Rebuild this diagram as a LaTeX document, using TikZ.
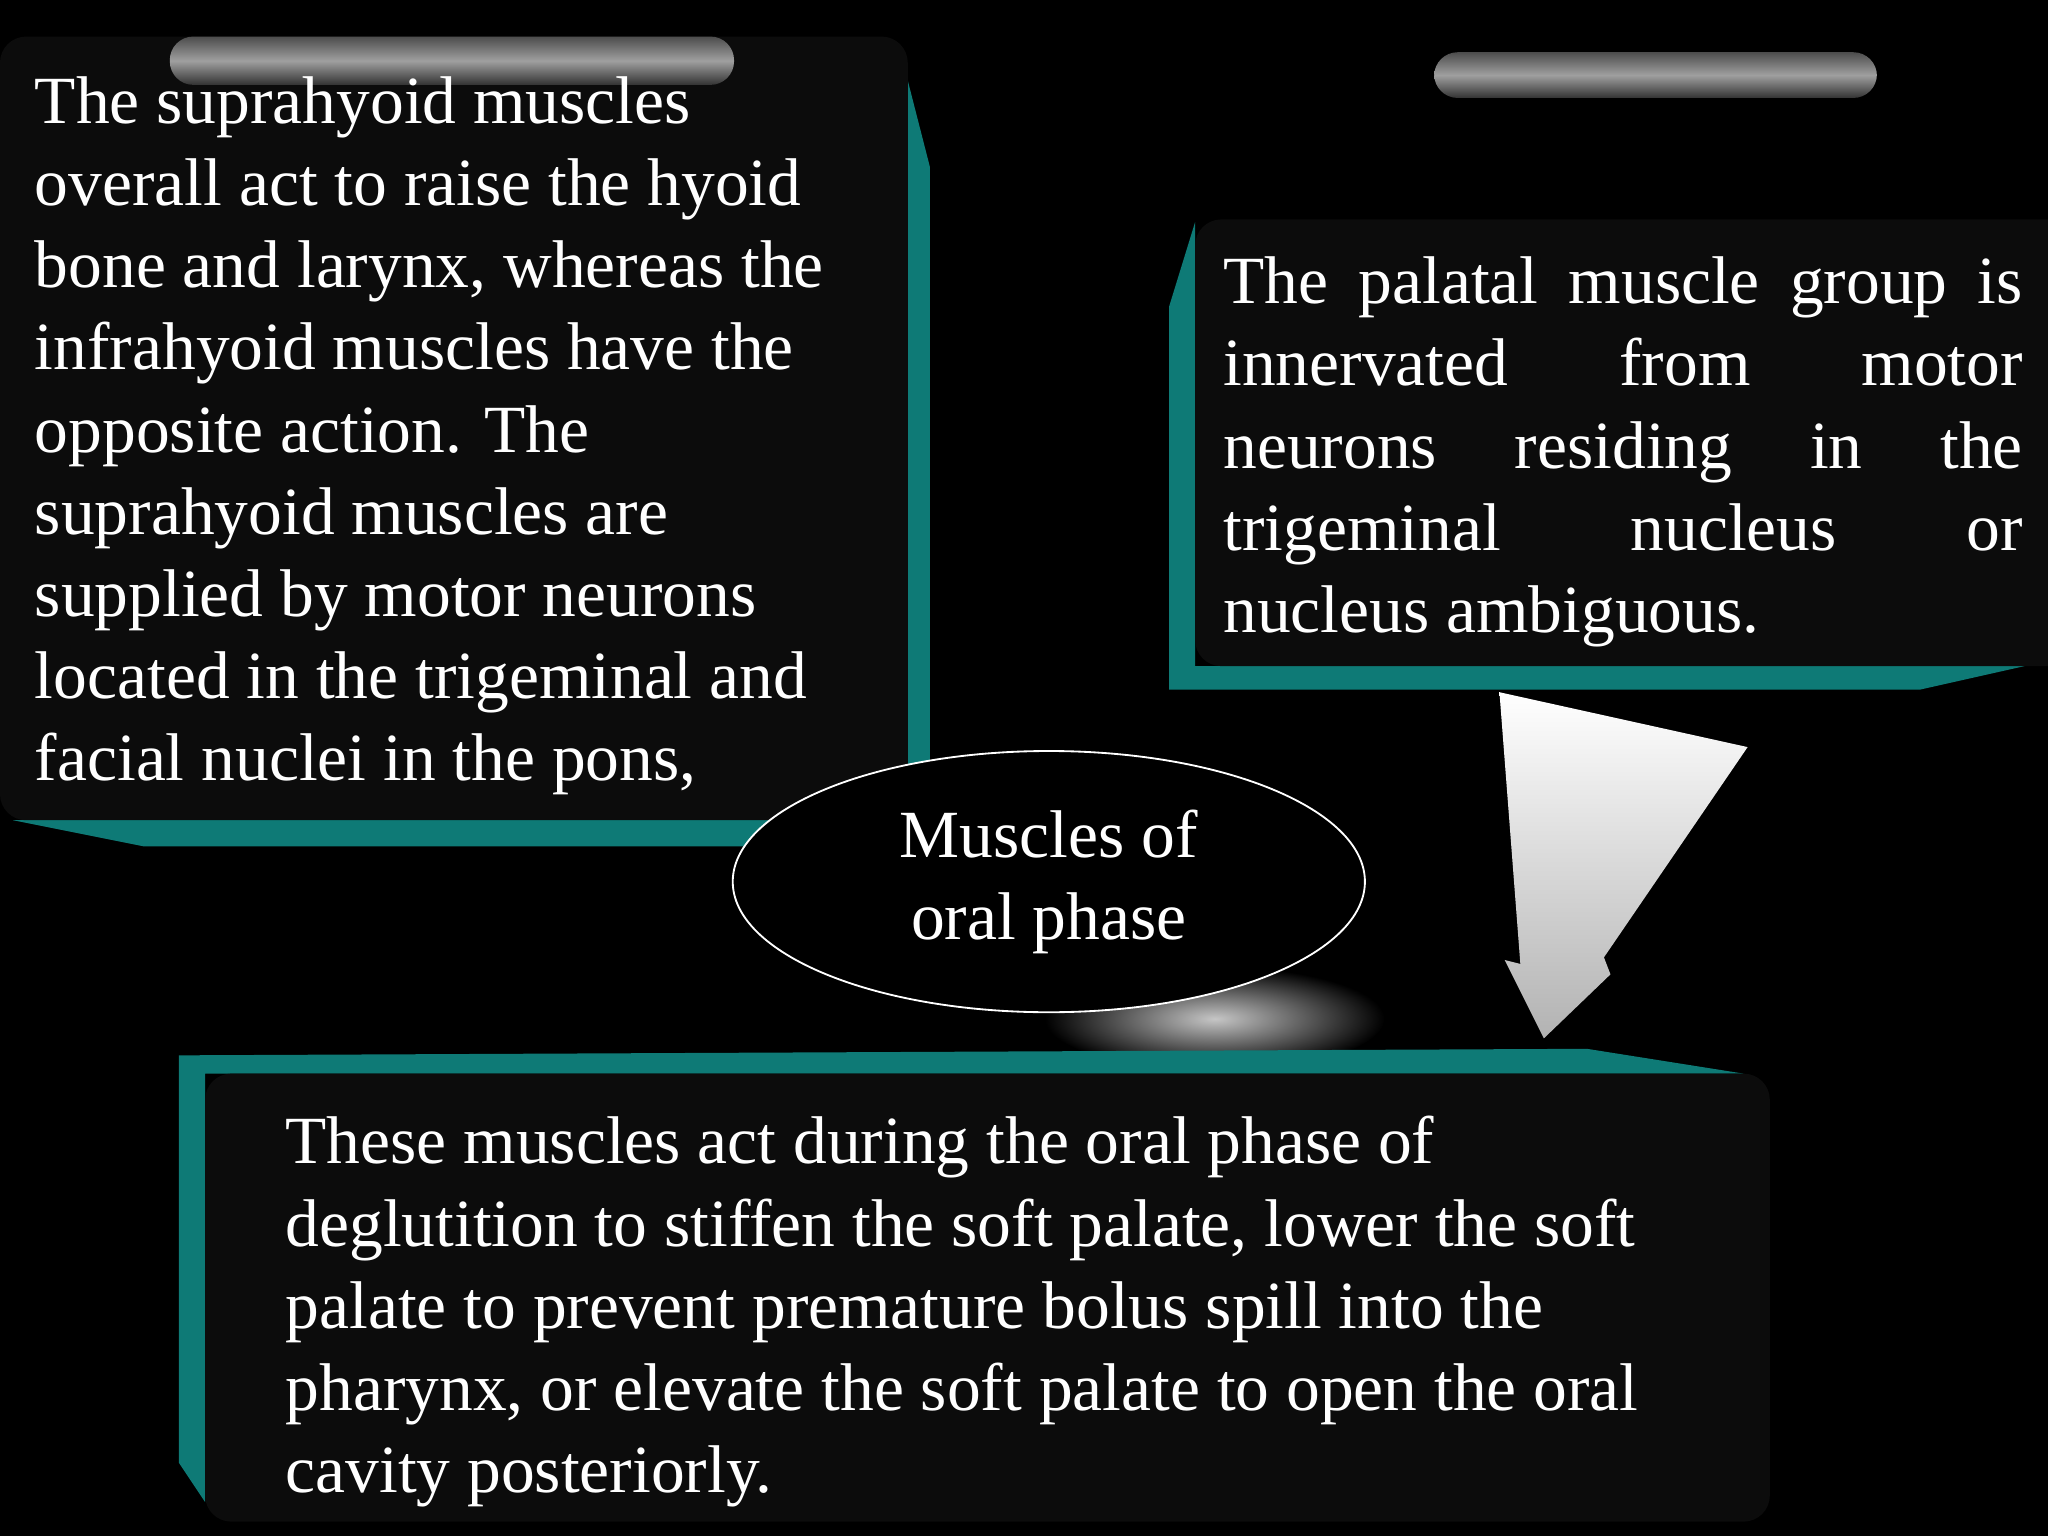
\documentclass[tikz,border=0pt]{standalone}
\usepackage{fontspec}
\setmainfont{Liberation Serif}
\usetikzlibrary{shapes.geometric}
\definecolor{teal3d}{HTML}{0E7A76}
\definecolor{boxdark}{HTML}{0C0C0C}
\tikzset{
  txt/.style={font=\fontsize{14.7pt}{17.9pt}\selectfont, text=white, inner sep=0pt, align=left},
  panel/.style={fill=boxdark, rounded corners=0.2cm},
  side/.style={fill=teal3d},
  pill/.style={rounded corners=0.18cm, top color=gray!60!black, bottom color=gray!40!black, middle color=gray!75},
}
\begin{document}
\begin{tikzpicture}
\fill[black] (0,0) rectangle (15.68,-11.76);
\useasboundingbox (0,0) rectangle (15.68,-11.76);
% left box
\fill[side] (6.92,-0.5) -- (7.12,-1.28) -- (7.12,-5.85) -- (6.92,-5.85) -- cycle;
\fill[side] (0.1,-6.28) -- (6.0,-6.28) -- (6.0,-6.48) -- (1.1,-6.48) -- cycle;
\fill[panel] (0,-0.28) rectangle (6.95,-6.28);
\shade[pill] (1.3,-0.28) rectangle (5.62,-0.65);
\node[txt, anchor=north west] (lt) at (0.26,-0.58) {The suprahyoid muscles\\overall act to raise the hyoid\\bone and larynx, whereas the\\infrahyoid muscles have the\\opposite action. The\\suprahyoid muscles are\\supplied by motor neurons\\located in the trigeminal and\\facial nuclei in the pons,};
% right box
\shade[pill] (10.98,-0.4) rectangle (14.37,-0.75);
\fill[side] (8.95,-2.35) -- (9.15,-1.7) -- (9.15,-5.1) -- (15.5,-5.1) -- (14.7,-5.28) -- (8.95,-5.28) -- cycle;
\fill[panel] (9.15,-1.68) rectangle (15.9,-5.1);
\node[txt, anchor=north west] (rt) at (9.36,-1.96) {\makebox[6.12cm][s]{The palatal muscle group is}\\\makebox[6.12cm][s]{innervated from motor}\\\makebox[6.12cm][s]{neurons residing in the}\\\makebox[6.12cm][s]{trigeminal nucleus or}\\nucleus ambiguous.};
% arrow
\shade[top color=white, bottom color=gray!60] (11.48,-5.3) -- (13.38,-5.72) -- (12.28,-7.33) -- (12.33,-7.46) -- (11.82,-7.95) -- (11.52,-7.35) -- (11.64,-7.38) -- cycle;
% glow
\shade[inner color=gray!45, outer color=black] (9.3,-7.8) ellipse (1.3 and 0.4);
% bottom box
\fill[side] (1.37,-8.08) -- (12.15,-8.03) -- (13.35,-8.22) -- (1.57,-8.22) -- (1.57,-11.5) -- (1.37,-11.2) -- cycle;
\fill[panel] (1.57,-8.22) rectangle (13.55,-11.65);
\node[txt, anchor=north west] (bt) at (2.18,-8.54) {These muscles act during the oral phase of\\deglutition to stiffen the soft palate, lower the soft\\palate to prevent premature bolus spill into the\\pharynx, or elevate the soft palate to open the oral\\cavity posteriorly.};
% ellipse
\node[ellipse, draw=white, line width=0.4pt, fill=black, minimum width=4.84cm, minimum height=2.0cm, font=\fontsize{14.7pt}{17.9pt}\selectfont, text=white, align=center] (el) at (8.03,-6.75) {Muscles of\\oral phase};
\end{tikzpicture}
\end{document}
